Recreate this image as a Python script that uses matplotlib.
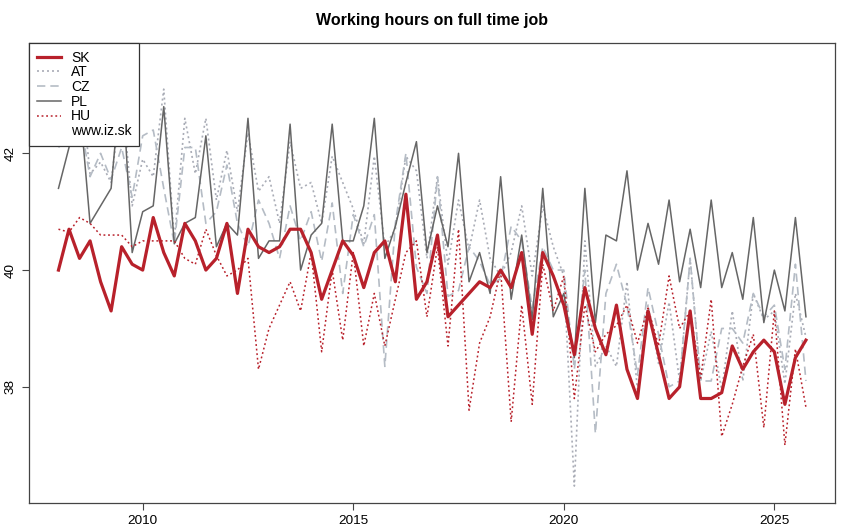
import matplotlib
matplotlib.use("Agg")
import matplotlib.pyplot as plt
from matplotlib.lines import Line2D

plt.rcParams['font.family'] = ['Liberation Sans', 'DejaVu Sans']

# quarterly data 2008Q1 - 2025Q4
quarters = [y + q / 4 for y in range(2008, 2026) for q in range(4)]

sk = [40.0, 40.7, 40.2, 40.5, 39.8, 39.3, 40.4, 40.1, 40.0, 40.9, 40.3, 39.9,
      40.8, 40.5, 40.0, 40.2, 40.8, 39.6, 40.7, 40.4, 40.3, 40.4, 40.7, 40.7,
      40.3, 39.5, 40.0, 40.5, 40.25, 39.7, 40.3, 40.5, 39.8, 41.3, 39.5, 39.8,
      40.6, 39.2, 39.4, 39.6, 39.8, 39.7, 40.0, 39.7, 40.3, 38.9, 40.3, 39.9,
      39.4, 38.55, 39.7, 39.0, 38.55, 39.4, 38.3, 37.8, 39.3, 38.55, 37.8, 38.0,
      39.3, 37.8, 37.8, 37.9, 38.7, 38.3, 38.6, 38.8, 38.6, 37.7, 38.5, 38.8]

at = [42.2, 42.5, 43.4, 41.65, 41.85, 41.5, 43.0, 41.1, 41.9, 41.6, 43.1, 40.5,
      42.6, 41.65, 42.6, 41.2, 42.05, 41.0, 42.35, 41.35, 41.6, 40.8, 42.2, 41.4,
      41.5, 40.8, 41.95, 41.5, 41.05, 40.45, 41.95, 40.4, 40.7, 41.95, 41.7, 40.2,
      41.6, 40.1, 41.2, 40.35, 41.2, 40.2, 39.9, 40.3, 41.1, 39.9, 41.1, 40.4,
      39.9, 36.3, 40.5, 38.35, 38.7, 38.35, 39.8, 37.95, 39.4, 38.4, 39.45, 38.1,
      40.2, 38.1, 38.95, 37.95, 39.3, 38.1, 39.6, 39.15, 39.3, 38.05, 39.6, 38.85]

cz = [42.1, 42.3, 42.6, 41.6, 42.0, 41.55, 42.1, 41.25, 42.3, 42.4, 41.4, 40.45,
      42.1, 42.1, 40.8, 41.0, 41.8, 40.8, 40.4, 41.2, 40.8, 40.2, 41.1, 40.5,
      41.0, 40.15, 41.15, 39.6, 40.95, 40.4, 40.95, 38.35, 40.8, 42.0, 40.05, 39.6,
      41.6, 39.55, 39.65, 40.4, 40.15, 39.75, 39.85, 40.75, 40.5, 39.35, 40.4, 40.0,
      40.0, 38.3, 40.0, 37.2, 39.6, 40.1, 39.4, 38.2, 39.7, 38.9, 38.0, 38.1,
      40.2, 38.1, 38.1, 39.0, 39.0, 38.75, 39.6, 39.2, 39.4, 38.3, 40.1, 38.1]

pl = [41.4, 42.1, 42.9, 40.8, 41.1, 41.4, 43.4, 40.3, 41.0, 41.1, 42.8, 40.45,
      40.8, 40.9, 42.3, 40.4, 40.8, 40.6, 42.6, 40.2, 40.5, 40.5, 42.5, 40.0,
      40.6, 40.8, 42.5, 40.5, 40.5, 41.1, 42.6, 40.2, 40.75, 41.5, 42.2, 40.3,
      41.1, 40.4, 42.0, 39.8, 40.3, 39.6, 41.6, 39.5, 40.6, 39.15, 41.4, 39.2,
      39.6, 38.5, 41.4, 39.1, 40.6, 40.5, 41.7, 40.0, 40.8, 40.1, 41.2, 39.8,
      40.7, 39.7, 41.2, 39.7, 40.3, 39.5, 40.9, 39.1, 40.0, 39.3, 40.9, 39.2]

hu = [40.7, 40.65, 40.9, 40.8, 40.6, 40.6, 40.6, 40.4, 40.5, 40.5, 40.5, 40.5,
      40.2, 40.1, 40.7, 40.25, 39.9, 40.0, 40.2, 38.3, 39.0, 39.4, 39.8, 39.3,
      40.3, 38.6, 40.0, 38.8, 40.3, 38.7, 39.6, 38.7, 39.5, 40.3, 40.5, 39.2,
      40.4, 38.7, 40.7, 37.6, 38.75, 39.2, 40.0, 37.4, 39.4, 37.7, 40.1, 39.3,
      39.9, 37.8, 39.4, 38.6, 38.9, 39.05, 39.4, 38.75, 39.35, 38.7, 39.9, 39.0,
      39.3, 38.15, 39.5, 37.15, 37.7, 38.35, 38.9, 37.3, 39.3, 37.0, 38.65, 37.65]

red = '#b8212b'
c_at = '#a9acb6'
c_cz = '#b5bcc5'
c_pl = '#666666'

fig = plt.figure(figsize=(8.5, 5.32), dpi=100)
ax = fig.add_axes([29 / 850, 1 - 503 / 532, (835 - 29) / 850, (503 - 43) / 532])

ax.plot(quarters, at, color=c_at, lw=1.2, dashes=(1.2, 1.8))
ax.plot(quarters, cz, color=c_cz, lw=1.2, dashes=(5, 3))
ax.plot(quarters, pl, color=c_pl, lw=1.1)
ax.plot(quarters, hu, color=red, lw=1.1, dashes=(1.2, 1.8))
ax.plot(quarters, sk, color=red, lw=2.3)

ax.set_xlim(2007.30, 2026.44)
ax.set_ylim(36.01, 43.89)
ax.set_xticks([2010, 2015, 2020, 2025])
ax.set_yticks([38, 40, 42])
ax.tick_params(axis='both', labelsize=9.7, length=5, width=0.8, color='#444444')
ax.tick_params(axis='x', pad=4)
ax.tick_params(axis='y', pad=4)
for lab in ax.get_yticklabels():
    lab.set_rotation(90)
    lab.set_va('center')
for s in ax.spines.values():
    s.set_color('#444444')
    s.set_linewidth(0.9)

ax.set_title('Working hours on full time job', fontsize=11.5, fontweight='bold', pad=13)

handles = [
    Line2D([], [], color=red, lw=2.3),
    Line2D([], [], color=c_at, lw=1.2, dashes=(1.2, 1.8)),
    Line2D([], [], color=c_cz, lw=1.2, dashes=(5, 3)),
    Line2D([], [], color=c_pl, lw=1.1),
    Line2D([], [], color=red, lw=1.1, dashes=(1.2, 1.8)),
    Line2D([], [], linestyle='none'),
]
labels = ['SK', 'AT', 'CZ', 'PL', 'HU', 'www.iz.sk']
leg = ax.legend(handles, labels, loc='upper left', borderaxespad=0, fancybox=False,
                framealpha=1, edgecolor='#333333', fontsize=10, handlelength=1.75,
                labelspacing=0.05, handletextpad=0.72, borderpad=0.55)
leg.get_frame().set_linewidth(0.9)

fig.savefig('out.png', dpi=100)
